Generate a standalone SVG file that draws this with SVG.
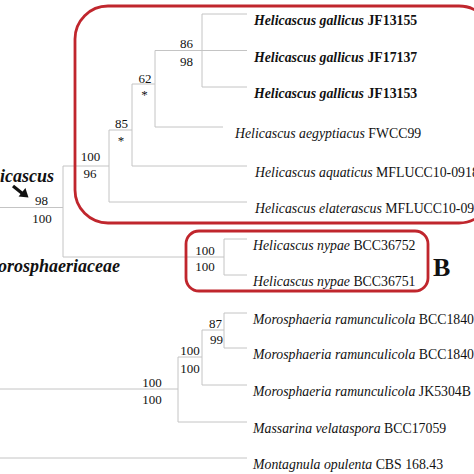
<svg xmlns="http://www.w3.org/2000/svg" width="474" height="474" viewBox="0 0 474 474">
<style>
.br{stroke:#c4c4c4;stroke-width:1;fill:none}
.box{stroke:#c0262d;stroke-width:2.8;fill:none}
.tx{font-family:"Liberation Serif","Times New Roman",serif;font-size:13.8px;fill:#111}
.num{font-family:"Liberation Serif","Times New Roman",serif;font-size:13px;fill:#111;text-anchor:middle}
.it{font-style:italic}
.bd{font-weight:bold}
.clade{font-family:"Liberation Serif","Times New Roman",serif;font-size:18px;font-weight:bold;font-style:italic;fill:#111;text-anchor:end}
</style>
<rect width="474" height="474" fill="#fff"/>
<g id="connectors">
<path class="br" d="M202,14H247M202,50.5H247M202,87H247M202,14V87M155,50.5H202M155,50.5V127M155,127H223M132,84H155M132,84V166M132,166H247M109,130H132M109,130V202M109,202H247M63,166H109M63,166V257M0,207.5H63M63,257H224M224,239V275M224,239H247M224,275H247"/>
<path class="br" d="M224,313V348M224,313H247M224,348H247M202,330H224M202,330V385M202,385H247M178,357H202M178,357V422M178,422H247M0,389H178M0,458H247"/>
</g>
<g id="boxA"><rect class="box" x="75" y="6" width="417" height="217" rx="33"/></g>
<g id="boxB"><rect class="box" x="186" y="231" width="242" height="60" rx="13"/></g>
<g id="labelB"><text x="433" y="276" font-family="Liberation Serif, serif" font-size="26" font-weight="bold" fill="#111">B</text></g>
<g id="t1"><text class="tx bd" x="254" y="25"><tspan class="it">Helicascus gallicus</tspan> JF13155</text></g>
<g id="t2"><text class="tx bd" x="254" y="61.5"><tspan class="it">Helicascus gallicus</tspan> JF17137</text></g>
<g id="t3"><text class="tx bd" x="254" y="98"><tspan class="it">Helicascus gallicus</tspan> JF13153</text></g>
<g id="t4"><text class="tx" x="235" y="137.5"><tspan class="it">Helicascus aegyptiacus</tspan> FWCC99</text></g>
<g id="t5"><text class="tx" x="255" y="176.5"><tspan class="it">Helicascus aquaticus</tspan> MFLUCC10-0918</text></g>
<g id="t6"><text class="tx" x="255" y="212.5"><tspan class="it">Helicascus elaterascus</tspan> MFLUCC10-09</text></g>
<g id="t7"><text class="tx" x="253" y="249.5"><tspan class="it">Helicascus nypae</tspan> BCC36752</text></g>
<g id="t8"><text class="tx" x="253" y="285.5"><tspan class="it">Helicascus nypae</tspan> BCC36751</text></g>
<g id="t9"><text class="tx" x="253" y="323.5"><tspan class="it">Morosphaeria ramunculicola</tspan> BCC1840</text></g>
<g id="t10"><text class="tx" x="253" y="358.5"><tspan class="it">Morosphaeria ramunculicola</tspan> BCC1840</text></g>
<g id="t11"><text class="tx" x="253" y="395.5"><tspan class="it">Morosphaeria ramunculicola</tspan> JK5304B</text></g>
<g id="t12"><text class="tx" x="253" y="432.5"><tspan class="it">Massarina velataspora</tspan> BCC17059</text></g>
<g id="t13"><text class="tx" x="253" y="468.5"><tspan class="it">Montagnula opulenta</tspan> CBS 168.43</text></g>
<g id="n86"><text class="num" x="186.5" y="47.5">86</text><text class="num" x="186.5" y="65.5">98</text></g>
<g id="n62"><text class="num" x="145" y="82.5">62</text><text class="num" x="144.5" y="99">*</text></g>
<g id="n85"><text class="num" x="121.5" y="127.5">85</text><text class="num" x="121" y="144.5">*</text></g>
<g id="n100a"><text class="num" x="90.5" y="160.5">100</text><text class="num" x="90" y="177.5">96</text></g>
<g id="nHel"><text class="num" x="41.5" y="204.5">98</text><text class="num" x="42" y="222.5">100</text></g>
<g id="nNyp"><text class="num" x="205" y="254.5">100</text><text class="num" x="205" y="270.5">100</text></g>
<g id="n87"><text class="num" x="215.5" y="327.5">87</text><text class="num" x="216.5" y="343.5">99</text></g>
<g id="n100b"><text class="num" x="190" y="354.5">100</text><text class="num" x="190" y="372.5">100</text></g>
<g id="n100c"><text class="num" x="152" y="386.5">100</text><text class="num" x="152" y="403.5">100</text></g>
<g id="cladeHel"><text class="clade" x="54" y="182">icascus</text></g>
<g id="cladeMor"><text class="clade" x="120" y="272">orosphaeriaceae</text></g>
<g id="arrow"><line x1="13" y1="186" x2="23" y2="194" stroke="#111" stroke-width="3.2"/><polygon points="28.5,197.5 18.6,196.4 25.4,188" fill="#111"/></g>
</svg>
